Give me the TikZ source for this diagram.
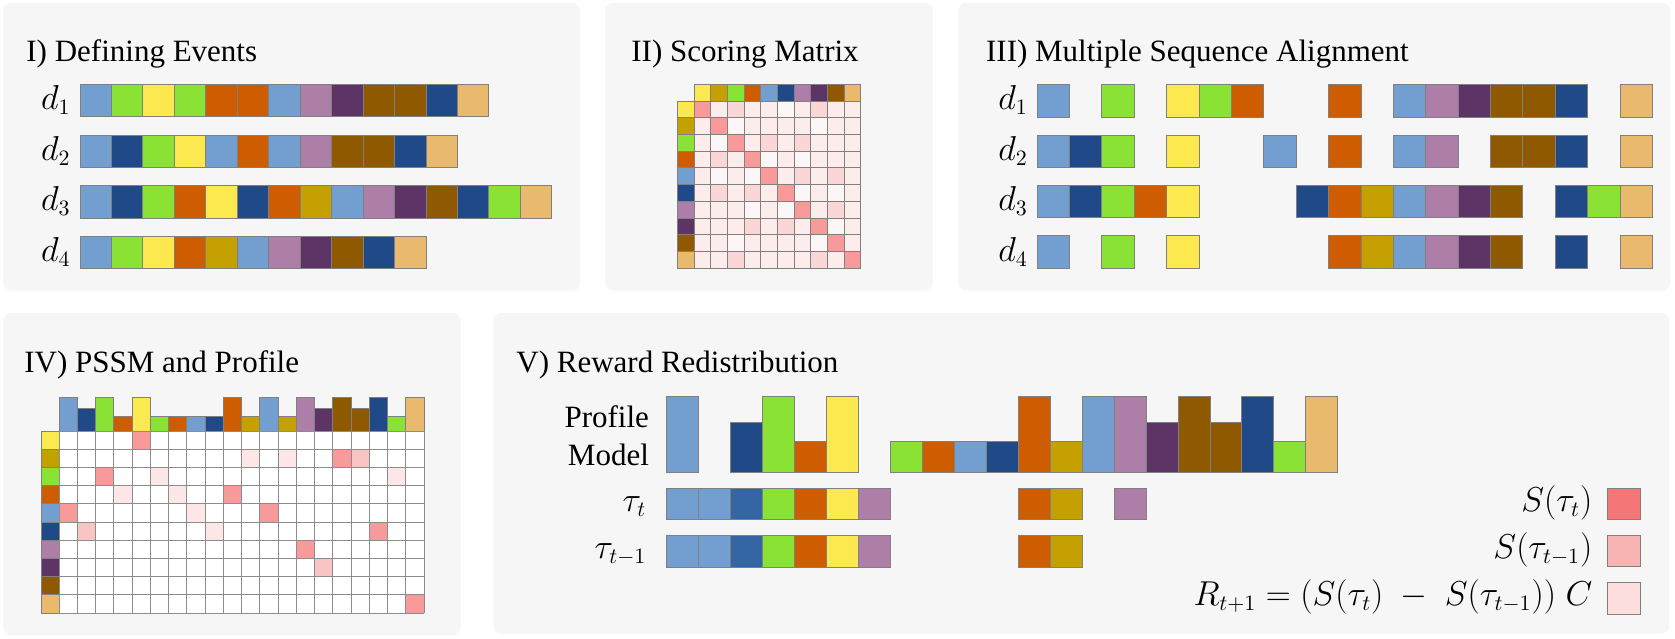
\documentclass[tikz,border=0pt]{standalone}
\usepackage{fontspec}
\IfFontExistsTF{LiberationSerif-Regular.ttf}
	{\setmainfont{LiberationSerif-Regular.ttf}}
	{\IfFontExistsTF{texgyretermes-regular.otf}{\setmainfont{texgyretermes-regular.otf}}{}}
\usepackage{tikz}

\definecolor{panelbg}{HTML}{F6F6F6}
\definecolor{lb}{HTML}{729FCF}
\definecolor{mb}{HTML}{3465A4}
\definecolor{db}{HTML}{204A87}
\definecolor{gr}{HTML}{8AE234}
\definecolor{ye}{HTML}{FCE94F}
\definecolor{or}{HTML}{CE5C00}
\definecolor{go}{HTML}{C4A000}
\definecolor{ma}{HTML}{AD7FA8}
\definecolor{pu}{HTML}{5C3566}
\definecolor{br}{HTML}{8F5902}
\definecolor{ta}{HTML}{E9B96E}
\definecolor{sm0}{HTML}{FDF6F6}
\definecolor{sm1}{HTML}{FCECEC}
\definecolor{sm2}{HTML}{FAD6D6}
\definecolor{smD}{HTML}{F99A9A}
\definecolor{pkA}{HTML}{F99A9A}
\definecolor{pkB}{HTML}{F9C4C4}
\definecolor{pkC}{HTML}{FCE6E6}
\definecolor{lgA}{HTML}{F47676}
\definecolor{lgB}{HTML}{F7B2B2}
\definecolor{lgC}{HTML}{FCDEDE}

\tikzset{
	panel/.style={fill=panelbg, rounded corners=4pt},
	cell/.style={draw=black!50, line width=0.5pt},
	gridline/.style={draw=black!45, line width=0.5pt},
	title/.style={anchor=base west, inner sep=0pt, font=\fontsize{15.5}{18.6}\selectfont},
	lbl/.style={anchor=base east, inner sep=0pt, font=\fontsize{16}{19}\selectfont}
}

% one row of coloured events: (x0,ytop)[cell width]{pos/colour,...}
\def\seqrow(#1,#2)[#3]#4{\foreach \p/\c in {#4} \draw[cell, fill=\c] ({#1+\p*#3},#2) rectangle +(#3,32.5);}

\begin{document}
\begin{tikzpicture}[x=0.5pt, y=-0.5pt]
			%%%%% START %%%%%
			\useasboundingbox (0,0) rectangle (1675,638);
			
			\fill[panel] (3.3,2.7) rectangle (580,290.7);
			\fill[panel] (605,2.7) rectangle (932.7,290.7);
			\fill[panel] (958.3,2.7) rectangle (1670,290.7);
			\fill[panel] (3.3,313) rectangle (460.7,635);
			\fill[panel] (493.3,313) rectangle (1669.3,633.5);
			
			\node[title] (tI) at (26,61.7) {I) Defining Events};
			\node[title] (tII) at (631,61.7) {II) Scoring Matrix};
			\node[title] (tIII) at (985.7,61.7) {III) Multiple Sequence Alignment};
			\node[title] (tIV) at (24,372.7) {IV) PSSM and Profile};
			\node[title] (tV) at (516,372.7) {V) Reward Redistribution};
			
			%%%%% I) events %%%%%
			\seqrow(80,84.3)[31.46]{0/lb,1/gr,2/ye,3/gr,4/or,5/or,6/lb,7/ma,8/pu,9/br,10/br,11/db,12/ta}
			\seqrow(80,135.3)[31.46]{0/lb,1/db,2/gr,3/ye,4/lb,5/or,6/lb,7/ma,8/br,9/br,10/db,11/ta}
			\seqrow(80,185.6)[31.46]{0/lb,1/db,2/gr,3/or,4/ye,5/db,6/or,7/go,8/lb,9/ma,10/pu,11/br,12/db,13/gr,14/ta}
			\seqrow(80,236)[31.46]{0/lb,1/gr,2/ye,3/or,4/go,5/lb,6/ma,7/pu,8/br,9/db,10/ta}
			\node[lbl] (dI1) at (71,109) {$d_1$};
			\node[lbl] (dI2) at (71,160) {$d_2$};
			\node[lbl] (dI3) at (71,210.5) {$d_3$};
			\node[lbl] (dI4) at (71,261) {$d_4$};
			
			%%%%% II) scoring matrix %%%%%
			\foreach \c [count=\i from 0] in {ye,go,gr,or,lb,db,ma,pu,br,ta} {
				\draw[cell, fill=\c] ({694+\i*16.67},84.3) rectangle +(16.67,16.7);
				\draw[cell, fill=\c] (677.7,{101+\i*16.73}) rectangle +(16.3,16.73);
			}
			\foreach \row [count=\r from 0] in {{D,1,2,1,1,0,1,2,1,1},{1,D,0,1,1,1,1,0,1,1},{1,0,D,1,2,1,2,1,1,1},{1,2,1,D,0,1,0,1,1,1},{1,0,1,0,D,1,2,1,2,1},{1,2,1,2,1,D,0,1,0,1},{1,1,1,0,1,0,D,1,2,1},{1,1,1,2,1,2,1,D,0,1},{1,1,0,1,1,1,1,0,D,1},{1,1,2,1,1,1,1,2,1,D}}
				\foreach \v [count=\k from 0] in \row
					\draw[cell, fill=sm\v] ({694+\k*16.67},{101+\r*16.73}) rectangle +(16.67,16.73);
			
			%%%%% III) alignment %%%%%
			\seqrow(1037.2,84.5)[32.38]{0/lb,2/gr,4/ye,5/gr,6/or,9/or,11/lb,12/ma,13/pu,14/br,15/br,16/db,18/ta}
			\seqrow(1037.2,135)[32.38]{0/lb,1/db,2/gr,4/ye,7/lb,9/or,11/lb,12/ma,14/br,15/br,16/db,18/ta}
			\seqrow(1037.2,185.3)[32.38]{0/lb,1/db,2/gr,3/or,4/ye,8/db,9/or,10/go,11/lb,12/ma,13/pu,14/br,16/db,17/gr,18/ta}
			\seqrow(1037.2,235.5)[32.38]{0/lb,2/gr,4/ye,9/or,10/go,11/lb,12/ma,13/pu,14/br,16/db,18/ta}
			\node[lbl] (dIII1) at (1028.3,109) {$d_1$};
			\node[lbl] (dIII2) at (1028.3,160) {$d_2$};
			\node[lbl] (dIII3) at (1028.3,210.5) {$d_3$};
			\node[lbl] (dIII4) at (1028.3,261) {$d_4$};
			
			%%%%% IV) PSSM and profile %%%%%
			\foreach \c/\h [count=\i from 0] in {lb/1,db/.66,gr/1,or/.42,ye/1,gr/.42,or/.42,lb/.42,db/.42,or/1,go/.42,lb/1,go/.42,ma/1,pu/.66,br/1,br/.66,db/1,gr/.42,ta/1}
				\draw[cell, fill=\c] ({59+\i*18.25},431) rectangle +(18.25,{-33.7*\h});
			\foreach \c [count=\i from 0] in {ye,go,gr,or,lb,db,ma,pu,br,ta}
				\draw[cell, fill=\c] (41,{431+\i*18.2}) rectangle +(18,18.2);
			\fill[white] (59,431) rectangle (424,613);
			\foreach \x/\y/\c in {4/0/pkA,10/1/pkC,12/1/pkC,15/1/pkA,16/1/pkB,2/2/pkA,5/2/pkC,18/2/pkC,3/3/pkC,6/3/pkC,9/3/pkA,0/4/pkA,7/4/pkC,11/4/pkA,1/5/pkB,8/5/pkC,17/5/pkA,13/6/pkA,14/7/pkB,19/9/pkA}
				\fill[\c] ({59+\x*18.25},{431+\y*18.2}) rectangle +(18.25,18.2);
			\foreach \i in {0,...,20}
				\draw[gridline] ({59+\i*18.25},431) -- ({59+\i*18.25},613);
			\foreach \j in {0,...,10}
				\draw[gridline] (59,{431+\j*18.2}) -- (424,{431+\j*18.2});
			
			%%%%% V) reward redistribution %%%%%
			\foreach \p/\c/\h in {0/lb/1,2/db/.66,3/gr/1,4/or/.41,5/ye/1,7/gr/.41,8/or/.41,9/lb/.41,10/db/.41,11/or/1,12/go/.41,13/lb/1,14/ma/1,15/pu/.66,16/br/1,17/br/.66,18/db/1,19/gr/.41,20/ta/1}
				\draw[cell, fill=\c] ({666.7+\p*31.96},472.3) rectangle +(31.96,{-75.7*\h});
			\node[anchor=base east, inner sep=0pt, font=\fontsize{15.5}{18.6}\selectfont] (prof) at (649.3,427.3) {Profile};
			\node[anchor=base east, inner sep=0pt, font=\fontsize{15.5}{18.6}\selectfont] (model) at (649.3,465) {Model};
			
			\foreach \p/\c in {0/lb,1/lb,2/mb,3/gr,4/or,5/ye,6/ma,11/or,12/go,14/ma}
				\draw[cell, fill=\c] ({666.7+\p*31.96},488) rectangle +(31.96,31.5);
			\foreach \p/\c in {0/lb,1/lb,2/mb,3/gr,4/or,5/ye,6/ma,11/or,12/go}
				\draw[cell, fill=\c] ({666.7+\p*31.96},535) rectangle +(31.96,32);
			\node[lbl] (taut) at (646.7,511.5) {$\tau_t$};
			\node[lbl] (tautm) at (646.7,558.5) {$\tau_{t-1}$};
			
			\draw[cell, fill=lgA] (1607.3,488) rectangle (1640,519.3);
			\draw[cell, fill=lgB] (1607.3,535) rectangle (1640,566.7);
			\draw[cell, fill=lgC] (1607.3,582.3) rectangle (1640,614);
			\node[lbl] (st) at (1592.7,511.5) {$S(\tau_t)$};
			\node[lbl] (stm) at (1592.7,558.3) {$S(\tau_{t-1})$};
			\node[lbl] (rew) at (1592.7,605) {$R_{t+1} = (S(\tau_t)\;-\;S(\tau_{t-1}))\;C$};
			
			%%%%% END %%%%%
\end{tikzpicture}
\end{document}
